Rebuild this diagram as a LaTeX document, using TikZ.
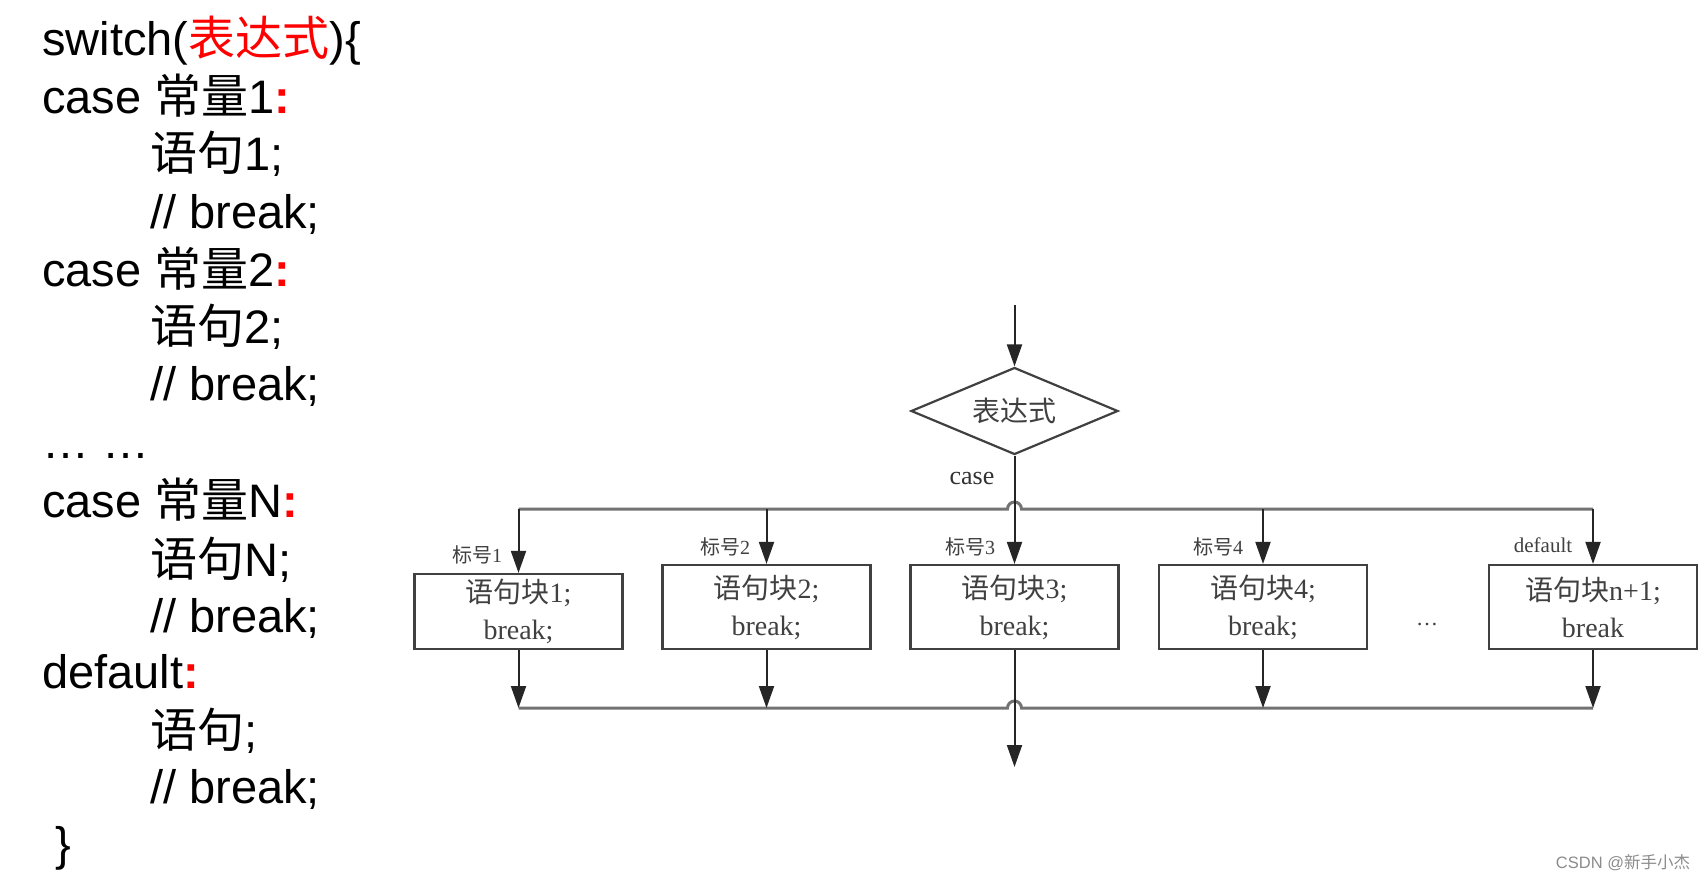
\documentclass[tikz,border=0pt]{standalone}
\usepackage{fontspec}
\setmainfont{Liberation Serif}
\newfontfamily\codefont{Liberation Sans}
\newfontfamily\cjk{Noto Sans CJK SC}
\usetikzlibrary{shapes.geometric,arrows.meta}
\newcommand{\zh}[1]{{\cjk #1}}
\newcommand{\redc}{\textcolor{red}{\textbf{:}}}
\begin{document}
\begin{tikzpicture}[x=1pt,y=-1pt,
  code/.style={anchor=base west,inner sep=0pt,font=\codefont\fontsize{47}{56}\selectfont},
  blk/.style={draw=black!75,line width=2.2pt,minimum width=208pt,minimum height=84pt,align=center,inner sep=0pt,text=black!75,font=\fontsize{28}{37}\selectfont},
  lbl/.style={text=black!75,inner sep=0pt,font=\fontsize{20}{24}\selectfont},
  arr/.style={draw=black!85,line width=2pt,-{Triangle[length=22pt,width=15pt]}},
  bus/.style={draw=black!55,line width=3pt}]
\useasboundingbox[fill=white] (0,0) rectangle (1707,881);
\node[code] (c1) at (42,55) {switch(\textcolor{red}{\zh{表达式}})\{};
\node[code] (c2) at (42,113) {case \zh{常量}1\redc};
\node[code] (c3) at (150,170) {\zh{语句}1;};
\node[code] (c4) at (150,228) {// break;};
\node[code] (c5) at (42,286) {case \zh{常量}2\redc};
\node[code] (c6) at (150,343) {\zh{语句}2;};
\node[code] (c7) at (150,400) {// break;};
\node[code] (c8) at (42,458) {… …};
\node[code] (c9) at (42,517) {case \zh{常量}N\redc};
\node[code] (c10) at (150,576) {\zh{语句}N;};
\node[code] (c11) at (150,632) {// break;};
\node[code] (c12) at (42,688) {default\redc};
\node[code] (c13) at (150,747) {\zh{语句};};
\node[code] (c14) at (150,803) {// break;};
\node[code] (c15) at (55,860) {\}};

\coordinate (start) at (1014.5,305);
\node[diamond,draw=black!75,line width=2.2pt,minimum width=207pt,minimum height=87pt,aspect=2.38,inner sep=0pt,text=black!75,font=\fontsize{28}{30}\selectfont] (expr) at (1014.5,411) {\zh{表达式}};
\node[text=black!80,inner sep=0pt,font=\fontsize{26}{28}\selectfont] (caselbl) at (972,478) {case};

\node[blk,minimum height=75pt] (blk1) at (518.5,611.5) {\zh{语句块}1;\\break;};
\node[blk] (blk2) at (766.5,607) {\zh{语句块}2;\\break;};
\node[blk] (blk3) at (1014.5,607) {\zh{语句块}3;\\break;};
\node[blk] (blk4) at (1263,607) {\zh{语句块}4;\\break;};
\node[blk] (blkn) at (1593,607) {\zh{语句块}n+1;\\break};
\node[text=black!75,inner sep=0pt,font=\fontsize{22}{24}\selectfont] (dots) at (1427,625) {…};

\node[lbl] (lab1) at (477,555) {\zh{标号}1};
\node[lbl] (lab2) at (725,547) {\zh{标号}2};
\node[lbl] (lab3) at (970,547) {\zh{标号}3};
\node[lbl] (lab4) at (1218,547) {\zh{标号}4};
\node[lbl,font=\fontsize{21}{24}\selectfont] (labd) at (1543,545) {default};

\coordinate (top1) at (518.5,509);
\coordinate (top2) at (766.5,509);
\coordinate (top3) at (1014.5,509);
\coordinate (top4) at (1263,509);
\coordinate (topn) at (1593,509);
\coordinate (bot1) at (518.5,708);
\coordinate (bot2) at (766.5,708);
\coordinate (bot3) at (1014.5,708);
\coordinate (bot4) at (1263,708);
\coordinate (botn) at (1593,708);
\coordinate (finish) at (1014.5,767);

\draw[bus] (top1) -- ([xshift=-7pt]top3) arc[start angle=180,end angle=360,radius=7] -- (topn);
\draw[bus] (bot1) -- ([xshift=-7pt]bot3) arc[start angle=180,end angle=360,radius=7] -- (botn);

\draw[arr] (start) -- (expr.north);
\draw[arr] (expr.south) -- (blk3.north);
\draw[arr] (top1) -- (blk1.north);
\draw[arr] (top2) -- (blk2.north);
\draw[arr] (top4) -- (blk4.north);
\draw[arr] (topn) -- (blkn.north);
\draw[arr] (blk1.south) -- (bot1);
\draw[arr] (blk2.south) -- (bot2);
\draw[arr] (blk4.south) -- (bot4);
\draw[arr] (blkn.south) -- (botn);
\draw[arr] (blk3.south) -- (finish);

\node[text=black!45,inner sep=0pt,font=\codefont\fontsize{16.5}{18}\selectfont] (mark) at (1623,863) {CSDN @\zh{新手小杰}};
\end{tikzpicture}
\end{document}
